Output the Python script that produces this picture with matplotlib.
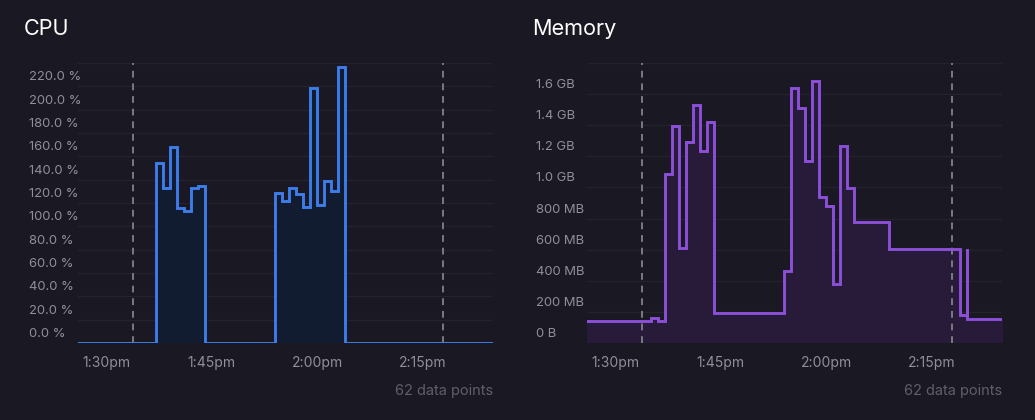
import matplotlib
matplotlib.use("Agg")
import matplotlib.pyplot as plt
from matplotlib import transforms

# ==========================================
# DATA (minutes relative to 1:30pm, one sample per minute)
# ==========================================
minutes = list(range(-5, 57))

cpu_pct = [
    0, 0, 0, 0, 0, 0, 0, 0, 0, 0, 0, 0,
    154, 133, 168, 116, 113, 133, 135,
    0, 0, 0, 0, 0, 0, 0, 0, 0, 0,
    129, 122, 133, 128, 117, 219, 118, 139, 130, 237,
    0, 0, 0, 0, 0, 0, 0, 0, 0, 0, 0, 0,
    0, 0, 0, 0, 0, 0, 0, 0, 0, 0, 0,
]

mem_minutes = list(range(-5, 51)) + [50] + list(range(51, 57))
mem_mb = [
    139, 139, 139, 139, 139, 139, 139, 139, 139, 139,
    164, 139,
    1089, 1394, 613, 1294, 1531, 1234, 1418,
    190, 190, 190, 190, 190, 190, 191, 191, 192, 192,
    463, 1638, 1512, 1170, 1683, 937, 878, 378, 1268, 999,
    775, 775, 775, 775, 775,
    607, 607, 607, 607, 607, 607, 607, 607, 607, 607,
    179, 607, 154,
    154, 154, 154, 154, 154, 154,
]

markers = [3.7, 47.85]
time_ticks = [0, 15, 30, 45]
time_labels = ["1:30pm", "1:45pm", "2:00pm", "2:15pm"]

cpu_ticks = [0, 20, 40, 60, 80, 100, 120, 140, 160, 180, 200, 220]
cpu_labels = ["%.1f %%" % v for v in cpu_ticks]
mem_ticks = [0, 200, 400, 600, 800, 1000, 1200, 1400, 1600]
mem_labels = ["0 B", "200 MB", "400 MB", "600 MB", "800 MB",
              "1.0 GB", "1.2 GB", "1.4 GB", "1.6 GB"]

# ==========================================
# STYLE
# ==========================================
BG = "#191823"
GRID = "#23222d"
BASE = "#3a3942"
TICK = "#8f8e99"
NOTE = "#5f5e69"
plt.rcParams["font.family"] = ["Inter", "DejaVu Sans"]

fig = plt.figure(figsize=(10.35, 4.2), dpi=100, facecolor=BG)


def panel(left, title, title_x, label_x, t, v, ymax, ticks, labels, line_c, fill_c):
    ax = fig.add_axes([left, 0.1833, 0.401, 0.6667])
    ax.set_facecolor(BG)
    for s in ax.spines.values():
        s.set_visible(False)

    ax.set_xlim(-4.07, 55.03)
    ax.set_ylim(0, ymax)

    for y in ticks[1:] + [ymax]:
        ax.axhline(y, color=GRID, lw=1, zorder=0)
    ax.axhline(0, color=BASE, lw=2.2, zorder=1)

    for m in markers:
        ax.axvline(m, color="#7b7a82", lw=1.4, ls=(0, (3.5, 3)), zorder=2)

    ax.fill_between(t, v, step="post", color=fill_c, lw=0, zorder=1.5)
    ax.step(t, v, where="post", color=line_c, lw=2.1, zorder=3,
            solid_joinstyle="miter")

    ax.set_yticks([])
    ax.set_xticks(time_ticks)
    ax.set_xticklabels(time_labels)
    ax.tick_params(axis="x", length=0, pad=9, labelsize=10, labelcolor=TICK)

    trans = transforms.blended_transform_factory(fig.transFigure, ax.transData)
    trans = transforms.offset_copy(trans, fig=fig, x=0, y=9, units="dots")
    for y, lab in zip(ticks, labels):
        ax.text(label_x, y, lab, transform=trans, ha="left", va="center",
                fontsize=9.4, color=TICK)

    fig.text(title_x, 1 - 29 / 420, title, ha="left", va="center",
             fontsize=15.6, color="white")
    fig.text(left + 0.401, 1 - 391 / 420, "62 data points", ha="right",
             va="center", fontsize=10.5, color=NOTE)
    return ax


panel(78 / 1035, "CPU", 24 / 1035, 29 / 1035, minutes, cpu_pct, 240,
      cpu_ticks, cpu_labels, "#3d7ce9", "#121c31")
panel(587 / 1035, "Memory", 532 / 1035, 536 / 1035, mem_minutes, mem_mb, 1800,
      mem_ticks, mem_labels, "#8b4fd8", "#281a39")

fig.savefig("out.png", dpi=100, facecolor=BG)
